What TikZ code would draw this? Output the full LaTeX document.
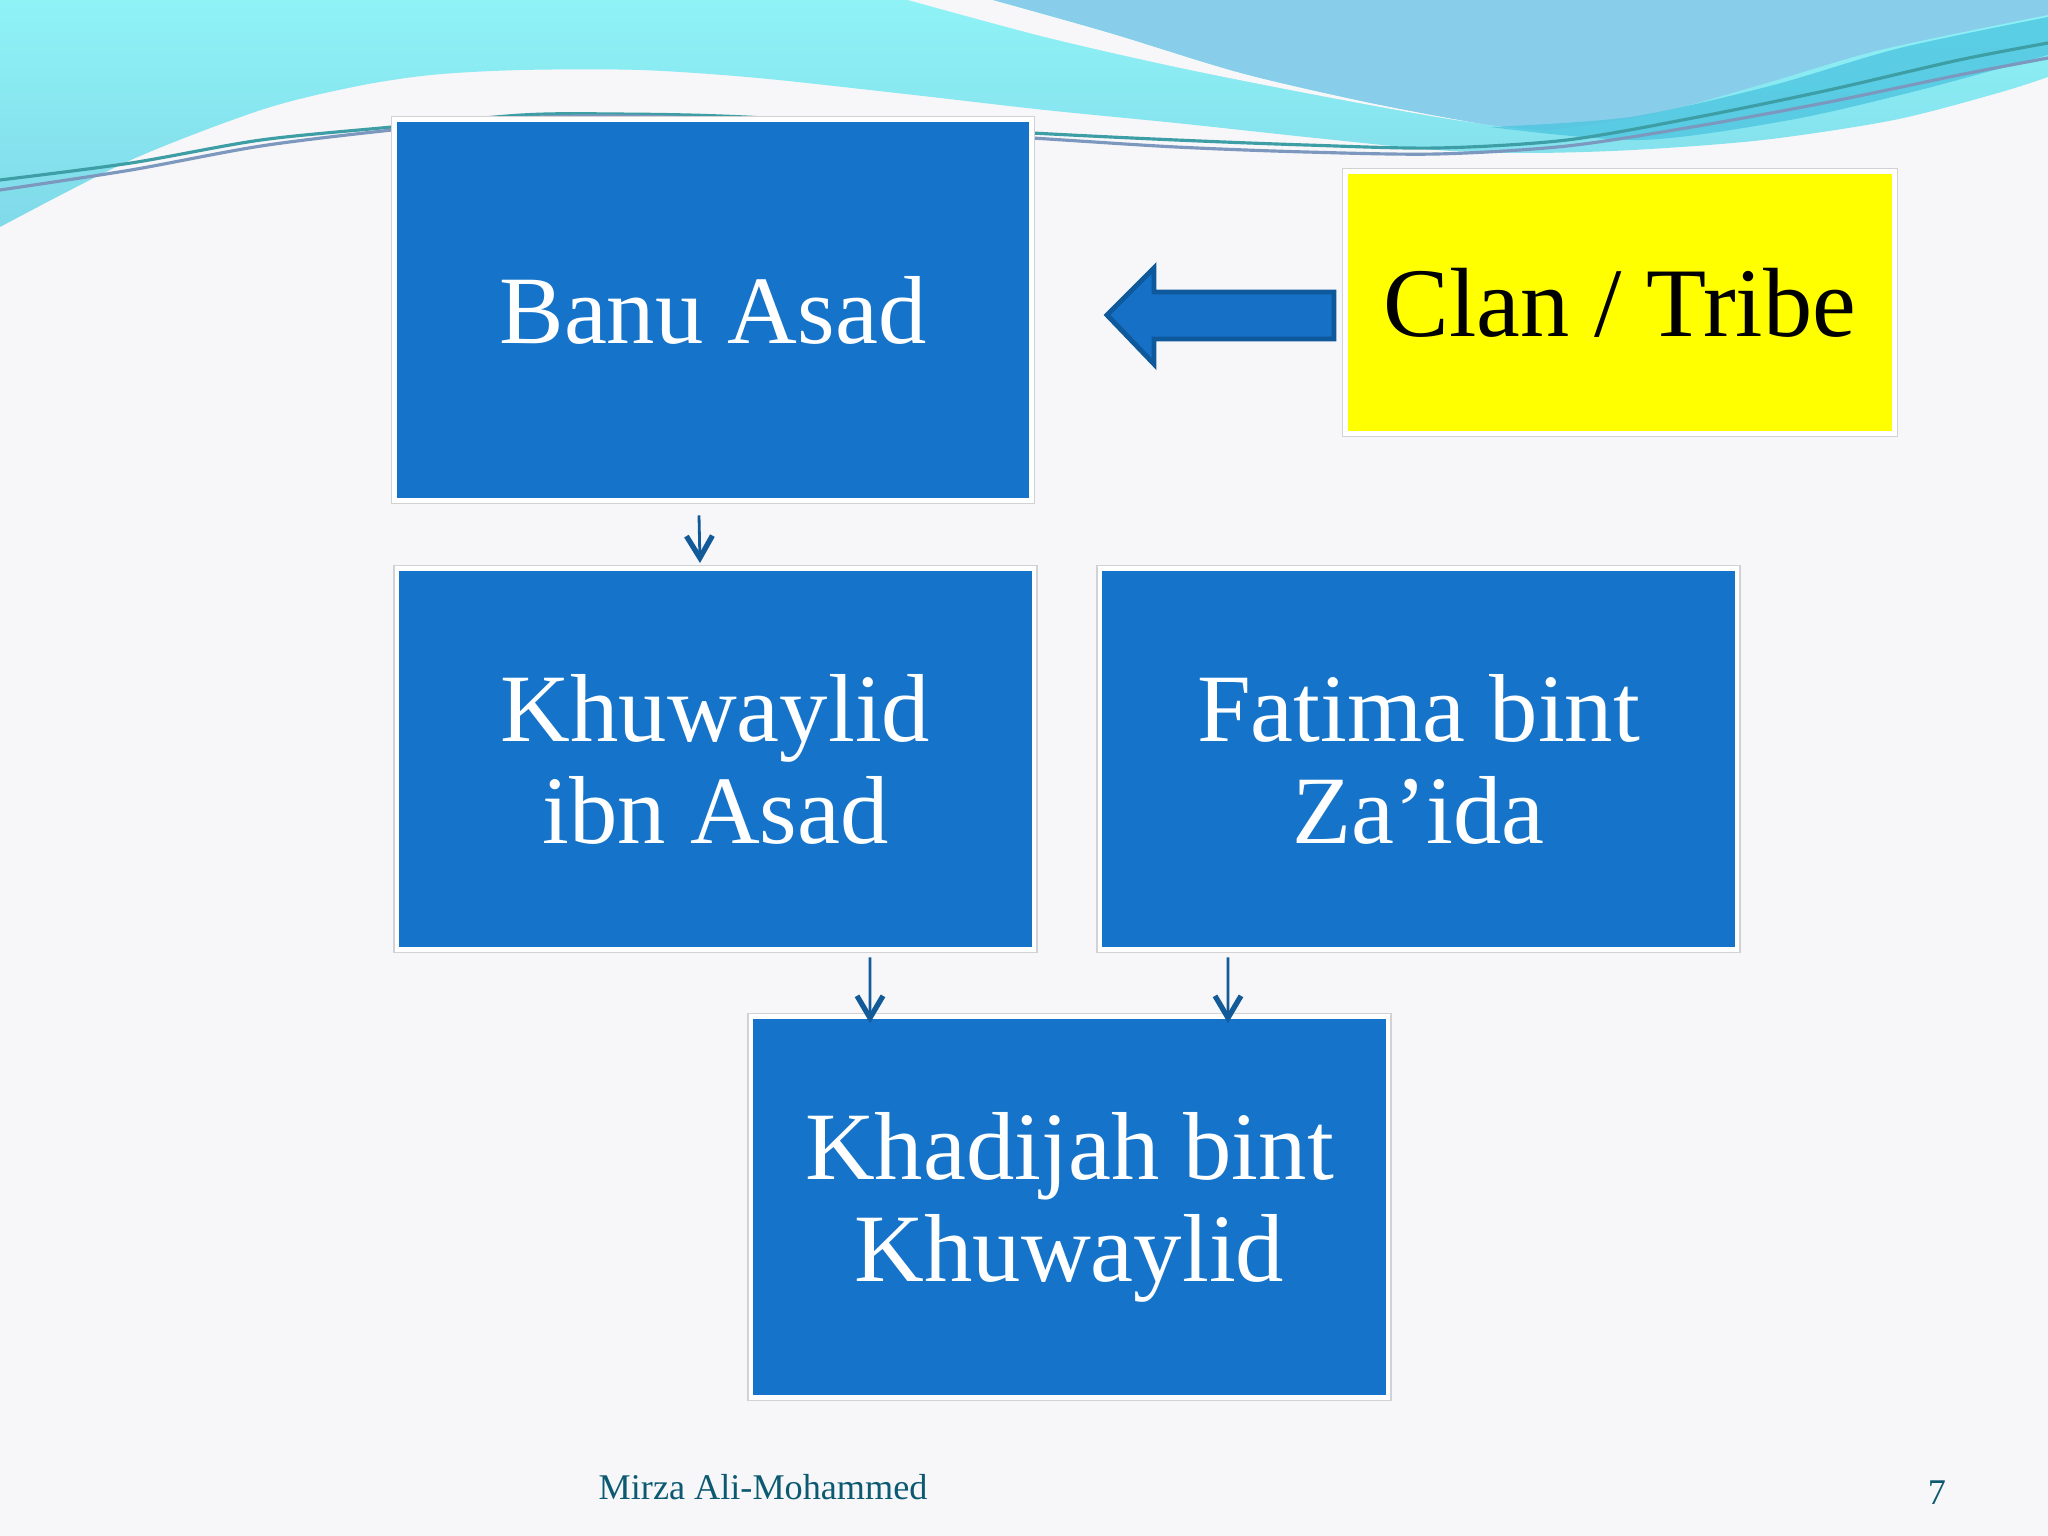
\documentclass[tikz,border=0pt]{standalone}
\usepackage{fontspec}
\setmainfont{Liberation Serif}
\usepackage{xcolor}
\usetikzlibrary{calc,arrows.meta}
\definecolor{paper}{HTML}{F7F7F9}
\definecolor{wavetop}{HTML}{8FF3F6}
\definecolor{wavelow}{HTML}{80D9E9}
\definecolor{waveblue}{HTML}{88CEEA}
\definecolor{ribbon}{HTML}{4EC6E1}
\definecolor{threadA}{HTML}{3E9EA6}
\definecolor{threadB}{HTML}{7C98BE}
\definecolor{boxblue}{HTML}{1574C9}
\definecolor{tagyellow}{HTML}{FFFF00}
\definecolor{framegray}{HTML}{D2D2D4}
\definecolor{linkblue}{HTML}{135A98}
\definecolor{arrowedge}{HTML}{0E589C}
\definecolor{arrowfill}{HTML}{1670C6}
\definecolor{footcol}{HTML}{0C5A72}
\tikzset{
  box/.style={rectangle, fill=boxblue, draw=white, line width=1.4pt,
    preaction={draw=framegray, line width=2pt},
    minimum width=6.37cm, minimum height=3.81cm, inner sep=0pt,
    align=center, text=white, font=\fontsize{27.5}{29}\selectfont},
  tag/.style={box, fill=tagyellow, text=black,
    minimum width=5.49cm, minimum height=2.62cm,
    font=\fontsize{28}{30}\selectfont},
  link/.style={draw=linkblue, line width=0.8pt,
    -{Straight Barb[length=2.2mm, width=2.6mm, line width=1.5pt]}},
  pointer/.style={draw=arrowedge, fill=arrowfill, line width=1.4pt, line join=miter},
  foot/.style={text=footcol, inner sep=0pt},
}

\begin{document}
\begin{tikzpicture}
  % page and top waves
  \fill[paper] (0,0) rectangle (20.48,-15.36);
  \useasboundingbox (0,0) rectangle (20.48,-15.36);
  \shade[top color=wavetop, bottom color=wavelow]
    (0,0) -- (20.48,0)
    -- plot[smooth] coordinates {(20.48,-0.77) (19.98,-0.93) (18.94,-1.20) (17.63,-1.40)
      (16.33,-1.50) (15.28,-1.53) (14.37,-1.50) (13.06,-1.37) (11.76,-1.23)
      (10.45,-1.10) (9.14,-0.95) (7.58,-0.78) (6.40,-0.70) (5.22,-0.70)
      (4.31,-0.75) (3.53,-0.87) (2.61,-1.10) (1.31,-1.60) (0,-2.27)} -- cycle;
  \fill[paper]
    plot[smooth] coordinates {(9.08,0) (10.45,-0.37) (11.76,-0.67) (13.06,-0.93)
      (14.37,-1.17) (15.40,-1.32)}
    -- plot[smooth] coordinates {(15.40,-1.32) (14.89,-1.25) (13.71,-1.03)
      (12.41,-0.73) (11.10,-0.33) (9.93,0)} -- cycle;
  \fill[waveblue]
    plot[smooth] coordinates {(9.93,0) (11.10,-0.33) (12.41,-0.73) (13.71,-1.03)
      (14.89,-1.25) (15.50,-1.30)}
    -- plot[smooth] coordinates {(15.50,-1.30) (16.50,-1.15) (17.60,-0.85)
      (18.80,-0.50) (20.48,-0.15)} -- (20.48,0) -- cycle;
  \fill[ribbon, opacity=0.8]
    plot[smooth] coordinates {(14.90,-1.27) (16.30,-1.17) (17.70,-0.86)
      (19.00,-0.48) (20.48,-0.17)}
    -- plot[smooth] coordinates {(20.48,-0.55) (19.20,-0.90) (17.90,-1.20)
      (16.40,-1.40) (14.90,-1.27)} -- cycle;
  \draw[threadA, line width=0.9pt] plot[smooth] coordinates {(0,-1.80) (1.31,-1.63)
    (2.61,-1.40) (3.92,-1.27) (5.22,-1.15) (6.14,-1.14) (7.45,-1.17) (10.32,-1.33)
    (11.76,-1.40) (13.06,-1.45) (14.37,-1.48) (15.67,-1.40) (16.98,-1.17)
    (18.29,-0.90) (19.59,-0.60) (20.48,-0.43)};
  \draw[threadB, line width=0.9pt] plot[smooth] coordinates {(0,-1.90) (1.31,-1.70)
    (2.61,-1.46) (3.92,-1.30) (5.22,-1.18) (6.14,-1.16) (7.45,-1.20) (10.32,-1.38)
    (11.76,-1.47) (13.06,-1.52) (14.37,-1.54) (15.67,-1.46) (16.98,-1.26)
    (18.29,-1.02) (19.59,-0.75) (20.48,-0.58)};

  % family boxes
  \node[box] (banu) at (7.13,-3.10) {Banu Asad};
  \node[tag] (clan) at (16.20,-3.025) {Clan / Tribe};
  \node[box] (khuwaylid) at (7.155,-7.59) {Khuwaylid\\ibn Asad};
  \node[box] (fatima) at (14.185,-7.59) {Fatima bint\\Za’ida};
  \node[box] (khadijah) at (10.695,-12.07) {Khadijah bint\\Khuwaylid};

  % block arrow from the tag
  \draw[pointer] (11.07,-3.15) -- (11.54,-2.68) -- (11.54,-2.92) -- (13.34,-2.92)
    -- (13.34,-3.39) -- (11.54,-3.39) -- (11.54,-3.64) -- cycle;

  % links
  \draw[link] ([xshift=-0.14cm, yshift=-0.125cm]banu.south)
    -- ([xshift=-0.155cm, yshift=0.03cm]khuwaylid.north);
  \draw[link] ([xshift=1.545cm, yshift=-0.055cm]khuwaylid.south)
    -- ([xshift=-1.995cm, yshift=-0.09cm]khadijah.north);
  \draw[link] ([xshift=-1.905cm, yshift=-0.055cm]fatima.south)
    -- ([xshift=1.585cm, yshift=-0.09cm]khadijah.north);

  % footer
  \node[foot, anchor=base west, font=\fontsize{10.3}{12}\selectfont] (author)
    at (5.98,-14.99) {Mirza Ali-Mohammed};
  \node[foot, anchor=base, font=\fontsize{10.3}{12}\selectfont] (pagenum)
    at (19.37,-15.04) {7};
\end{tikzpicture}
\end{document}
